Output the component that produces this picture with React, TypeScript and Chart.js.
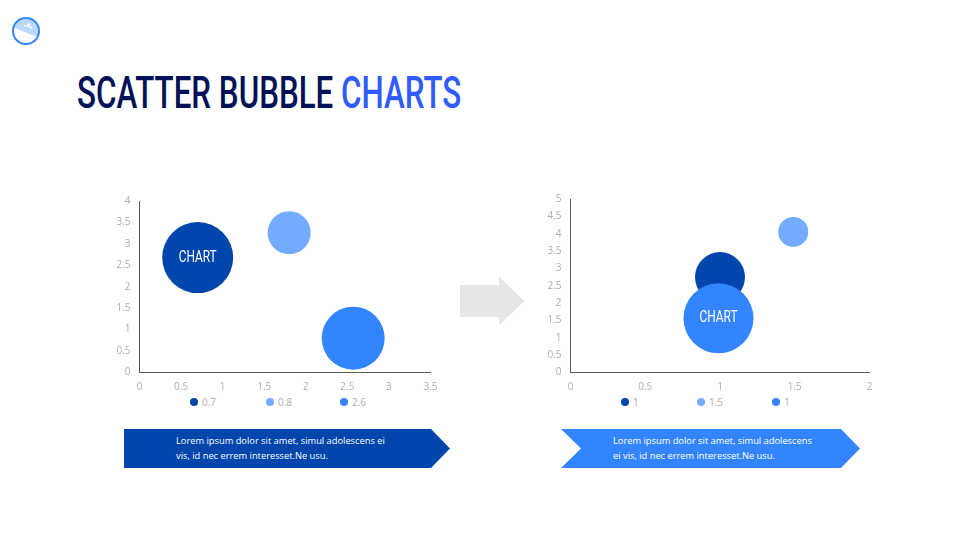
import React, { useEffect, useRef } from "react";
import { Chart, registerables } from "chart.js";

Chart.register(...registerables);

const COLORS = ["#0046AD", "#75ABFF", "#3385FF"];

const leftNames = ["0.7", "0.8", "2.6"];
const leftX = [0.7, 1.8, 2.57];
const leftY = [2.68, 3.26, 0.8];
const leftR = [35.5, 21.5, 31.5];
const leftXTicks = [0, 0.5, 1, 1.5, 2, 2.5, 3, 3.5];
const leftYTicks = [0, 0.5, 1, 1.5, 2, 2.5, 3, 3.5, 4];

const rightNames = ["1", "1.5", "1"];
const rightX = [1, 1.49, 0.99];
const rightY = [2.75, 4.05, 1.56];
const rightR = [25, 15, 35];
const rightXTicks = [0, 0.5, 1, 1.5, 2];
const rightYTicks = [0, 0.5, 1, 1.5, 2, 2.5, 3, 3.5, 4, 4.5, 5];

const TICK = "#ADADAD";
const AXIS = "#595959";
const UI_FONT = '"Open Sans", "Noto Sans", sans-serif';
const CONDENSED = 'Roboto, "Liberation Sans", sans-serif';

const bubbleLabel = (datasetIndex: number, text: string) => ({
  id: "bubbleLabel",
  afterDatasetsDraw(chart: any) {
    const el = chart.getDatasetMeta(datasetIndex).data[0];
    const { ctx } = chart;
    ctx.save();
    ctx.translate(el.x, el.y);
    ctx.scale(0.72, 1);
    ctx.fillStyle = "#FFFFFF";
    ctx.font = `400 16.5px ${CONDENSED}`;
    ctx.textAlign = "center";
    ctx.textBaseline = "middle";
    ctx.fillText(text, 0, 0);
    ctx.restore();
  },
});

function BubbleChart(props: {
  names: string[];
  xs: number[];
  ys: number[];
  rs: number[];
  xTicks: number[];
  yTicks: number[];
  labelIndex: number;
  style: React.CSSProperties;
  yWidth: number;
  xHeight: number;
  padding: any;
}) {
  const ref = useRef<HTMLCanvasElement | null>(null);
  useEffect(() => {
    const { names, xs, ys, rs, xTicks, yTicks, labelIndex, yWidth, xHeight, padding } = props;
    const chart = new Chart(ref.current as HTMLCanvasElement, {
      type: "bubble",
      data: {
        datasets: names.map((n, i) => ({
          label: n,
          data: [{ x: xs[i], y: ys[i], r: rs[i] }],
          backgroundColor: COLORS[i],
          borderWidth: 0,
          order: names.length - i,
          clip: false,
        })),
      },
      options: {
        responsive: false,
        animation: false,
        layout: { padding, autoPadding: false },
        plugins: { legend: { display: false }, tooltip: { enabled: false } },
        scales: {
          x: {
            type: "linear",
            min: xTicks[0],
            max: xTicks[xTicks.length - 1],
            afterBuildTicks: (s: any) => { s.ticks = xTicks.map((value) => ({ value })); },
            afterFit: (s: any) => {
              s.height = xHeight;
              s.paddingLeft = 0;
              s.paddingRight = 0;
            },
            grid: { display: false, drawTicks: false },
            border: { color: AXIS, width: 1 },
            ticks: {
              color: TICK,
              font: { family: UI_FONT, size: 10 },
              padding: 9,
              maxRotation: 0,
              autoSkip: false,
              callback: (v: any) => String(v),
            },
          },
          y: {
            type: "linear",
            min: yTicks[0],
            max: yTicks[yTicks.length - 1],
            afterBuildTicks: (s: any) => { s.ticks = yTicks.map((value) => ({ value })); },
            afterFit: (s: any) => {
              s.width = yWidth;
              s.paddingTop = 0;
              s.paddingBottom = 0;
            },
            grid: { display: false, drawTicks: false },
            border: { color: AXIS, width: 1 },
            ticks: {
              color: TICK,
              font: { family: UI_FONT, size: 10 },
              padding: 9,
              autoSkip: false,
              callback: (v: any) => String(v),
            },
          },
        },
      },
      plugins: [bubbleLabel(labelIndex, "CHART")],
    } as any);
    return () => chart.destroy();
  }, []);
  return (
    <canvas
      ref={ref}
      width={props.style.width as number}
      height={props.style.height as number}
      style={{ position: "absolute", display: "block", ...props.style }}
    />
  );
}

function Legend({ names, lefts, top }: { names: string[]; lefts: number[]; top: number }) {
  return (
    <>
      {names.map((n, i) => (
        <div key={i} style={{ position: "absolute", left: lefts[i], top, height: 12, display: "flex", alignItems: "center" }}>
          <span style={{ width: 8, height: 8, borderRadius: "50%", background: COLORS[i], marginRight: 4, display: "block" }} />
          <span style={{ color: TICK, fontFamily: UI_FONT, fontSize: 10, lineHeight: "12px" }}>{n}</span>
        </div>
      ))}
    </>
  );
}

function BannerText({ lines, left }: { lines: string[]; left: number }) {
  return (
    <>
      {lines.map((t, i) => (
        <div
          key={i}
          style={{
            position: "absolute",
            left,
            top: 434 + i * 14.5,
            lineHeight: "13px",
            fontFamily: UI_FONT,
            fontSize: 9.3,
            color: "#FFFFFF",
            whiteSpace: "nowrap",
          }}
        >
          {t}
        </div>
      ))}
    </>
  );
}

export default function App() {
  return (
    <div style={{ position: "absolute", left: 0, top: 0, width: 960, height: 540, background: "#FFFFFF", overflow: "hidden" }}>
      <svg width={960} height={540} style={{ position: "absolute", left: 0, top: 0 }}>
        <defs>
          <clipPath id="ball"><circle cx={26} cy={31} r={12} /></clipPath>
        </defs>
        <g clipPath="url(#ball)">
          <polygon points="12,17 40,17 40,38 12,27" fill="#BBD6FF" />
          <circle cx={28.5} cy={25} r={1.8} fill="#FFFFFF" />
          <circle cx={31} cy={27.5} r={1.2} fill="#FFFFFF" />
          <circle cx={25} cy={26} r={1} fill="#FFFFFF" />
        </g>
        <circle cx={26} cy={31} r={13} fill="none" stroke="#3385FF" strokeWidth={2} />
        <polygon points="460,285 499,285 499,276 524,301 499,325.5 499,317 460,317" fill="#E6E6E6" />
        <polygon points="124,429 431,429 450,448.5 431,468 124,468" fill="#0046AD" />
        <polygon points="561,429 841,429 860,448.5 841,468 561,468 581,448.5" fill="#3385FF" />
      </svg>

      <div
        style={{
          position: "absolute",
          left: 77,
          top: 65,
          fontFamily: CONDENSED,
          fontWeight: 500,
          fontSize: 45,
          lineHeight: "56px",
          whiteSpace: "nowrap",
          transform: "scaleX(0.696)",
          transformOrigin: "left top",
          color: "#001257",
        }}
      >
        SCATTER BUBBLE <span style={{ color: "#2F5BFF" }}>CHARTS</span>
      </div>

      <BubbleChart
        names={leftNames}
        xs={leftX}
        ys={leftY}
        rs={leftR}
        xTicks={leftXTicks}
        yTicks={leftYTicks}
        labelIndex={0}
        style={{ left: 100, top: 190, width: 350, height: 205 }}
        yWidth={39.5}
        xHeight={22.5}
        padding={{ left: 0, right: 19.5, top: 11, bottom: 0 }}
      />
      <Legend names={leftNames} lefts={[190, 266, 340]} top={396} />

      <BubbleChart
        names={rightNames}
        xs={rightX}
        ys={rightY}
        rs={rightR}
        xTicks={rightXTicks}
        yTicks={rightYTicks}
        labelIndex={2}
        style={{ left: 530, top: 185, width: 350, height: 210 }}
        yWidth={40.5}
        xHeight={22.5}
        padding={{ left: 0, right: 10.5, top: 14, bottom: 0 }}
      />
      <Legend names={rightNames} lefts={[621, 697, 772]} top={396} />

      <BannerText left={176} lines={["Lorem ipsum dolor sit amet, simul adolescens ei", "vis, id nec errem interesset.Ne usu."]} />
      <BannerText left={613} lines={["Lorem ipsum dolor sit amet, simul adolescens", "ei vis, id nec errem interesset.Ne usu."]} />
    </div>
  );
}
